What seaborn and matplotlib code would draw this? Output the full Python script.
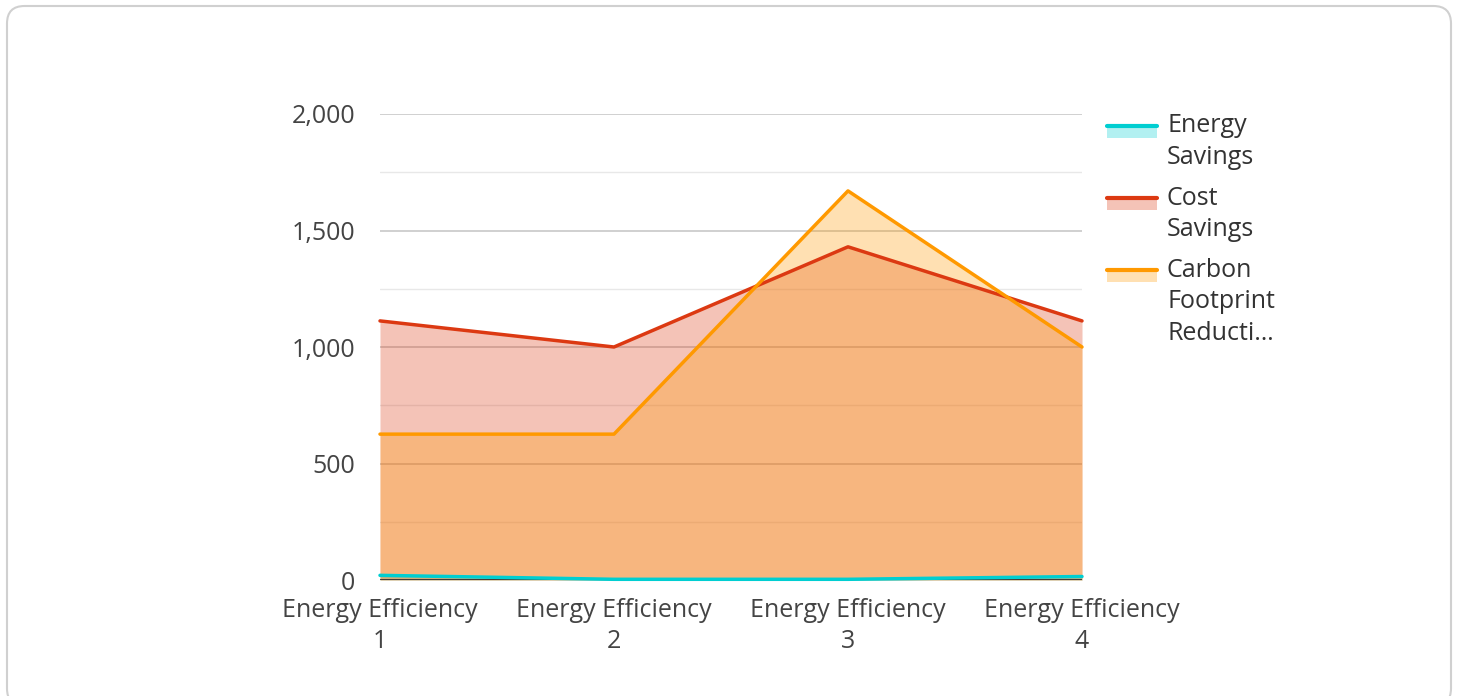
import numpy as np
import pandas as pd
import matplotlib
matplotlib.use("Agg")
import matplotlib.pyplot as plt
import seaborn as sns
from matplotlib.patches import Rectangle, FancyBboxPatch
from matplotlib.lines import Line2D
from matplotlib.ticker import MultipleLocator, FuncFormatter

categories = ["Energy Efficiency\n1", "Energy Efficiency\n2", "Energy Efficiency\n3", "Energy Efficiency\n4"]
energy_savings = [20, 3, 3, 15]
cost_savings = [1112, 1000, 1430, 1112]
carbon_reduction = [626, 626, 1670, 1000]

series_names = ["Energy\nSavings", "Cost\nSavings", "Carbon\nFootprint\nReducti…"]
line_colors = ["#00CED1", "#DC3912", "#FF9900"]

sns.set_theme(style="white")
plt.rcParams["font.family"] = ["Open Sans", "DejaVu Sans"]
FS = 18

df = pd.DataFrame({
    "x": np.arange(len(categories)),
    "Energy Savings": energy_savings,
    "Cost Savings": cost_savings,
    "Carbon Footprint Reduction": carbon_reduction,
})
cols = ["Energy Savings", "Cost Savings", "Carbon Footprint Reduction"]

W, H = 1458, 696
fig = plt.figure(figsize=(W / 100, H / 100), dpi=100)
ax = fig.add_axes([380 / W, 116 / H, 702 / W, 466 / H])

# card border
fig.patches.append(FancyBboxPatch((7 / W, -10 / H), 1444 / W, 700 / H,
                                  boxstyle="round,pad=0,rounding_size=0.012",
                                  transform=fig.transFigure, facecolor="white",
                                  edgecolor="#d0d0d0", linewidth=1.5, zorder=-10,
                                  mutation_aspect=W / H))

ax.axhline(0, color="#333333", linewidth=2, zorder=2.5)
for col, c in zip(cols, line_colors):
    ax.fill_between(df["x"], 0, df[col], color=c, alpha=0.3, linewidth=0, zorder=2)
    sns.lineplot(data=df, x="x", y=col, ax=ax, color=c, linewidth=2.5, zorder=3,
                 clip_on=False)

ax.set_xlim(0, 3)
ax.set_ylim(0, 2000)
ax.yaxis.set_major_locator(MultipleLocator(500))
ax.yaxis.set_minor_locator(MultipleLocator(250))
ax.yaxis.set_major_formatter(FuncFormatter(lambda v, p: f"{int(v):,}"))
ax.grid(axis="y", which="major", color="#c8c8c8", linewidth=1.2)
ax.grid(axis="y", which="minor", color="#e8e8e8", linewidth=1)
ax.set_axisbelow(True)
for s in ax.spines.values():
    s.set_visible(False)

ax.set_xticks(df["x"])
ax.set_xticklabels(categories, linespacing=1.32)
ax.tick_params(axis="x", length=0, pad=13, labelsize=FS, labelcolor="#444444")
ax.tick_params(axis="y", which="both", length=0, pad=18, labelsize=FS, labelcolor="#444444")
ax.set_xlabel("")
ax.set_ylabel("")

# legend, drawn by hand so the key sits beside the first line of each label
y = 126
for name, c in zip(series_names, line_colors):
    fig.patches.append(Rectangle((1107 / W, 1 - (y + 12) / H), 50 / W, 12 / H,
                                 transform=fig.transFigure, facecolor=c, alpha=0.3,
                                 linewidth=0))
    fig.lines.append(Line2D([1107 / W, 1157 / W], [1 - y / H] * 2, color=c, linewidth=3,
                            transform=fig.transFigure))
    for i, part in enumerate(name.split("\n")):
        fig.text(1167 / W, 1 - (y + 31.5 * i) / H, part, fontsize=FS, color="#333333",
                 va="center", ha="left")
    y += 31.5 * len(name.split("\n")) + 9

fig.savefig("out.png", dpi=100)
